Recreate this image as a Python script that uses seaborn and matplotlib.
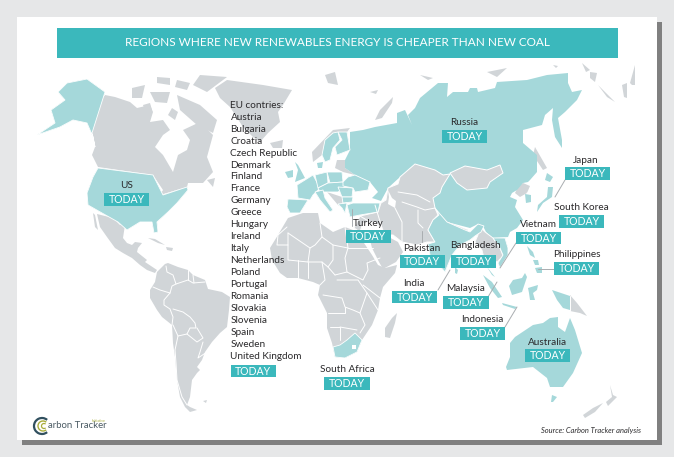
import matplotlib
matplotlib.use("Agg")
import matplotlib.pyplot as plt
from matplotlib.patches import Rectangle, Arc
import seaborn as sns
import pandas as pd

TEAL_LAND = "#a5d8da"
GRAY_LAND = "#d1d5d8"
TEAL_BOX = "#3bb8bc"
INK = "#2b2a2c"

title = "REGIONS WHERE NEW RENEWABLES ENERGY IS CHEAPER THAN NEW COAL"
source = "Source: Carbon Tracker analysis"
eu_header = "EU contries:"
eu_countries = ["Austria", "Bulgaria", "Croatia", "Czech Republic", "Denmark", "Finland", "France",
                "Germany", "Greece", "Hungary", "Ireland", "Italy", "Netherlands", "Poland", "Portugal",
                "Romania", "Slovakia", "Slovenia", "Spain", "Sweden", "United Kingdom"]

# regions and where their labels sit, in picture pixels
regions = ["US", "Russia", "Japan", "South Korea", "Vietnam", "Turkey", "Pakistan", "India",
           "South Africa", "Bangladesh", "Philippines", "Malaysia", "Indonesia", "Australia"]
label_x = [126.5, 464, 585.7, 581.7, 538.3, 368.3, 422, 414.3, 347.3, 475, 576.7, 465.7, 482.3, 547.3]
label_y = [185, 122.5, 160.7, 208, 224.3, 223.3, 248.3, 283.3, 370, 246, 254.3, 288.3, 319.3, 342.3]
box_x = [104, 442, 565, 559, 516, 345.7, 399.7, 392, 324.3, 451, 554, 443.3, 460, 525]
box_y = [193.3, 130, 167.3, 215, 231.7, 230, 255.3, 290.7, 377.3, 255, 262, 296, 327.3, 349]

# outlines
alaska = [(105,92),(87,79),(67,83),(58,92),(65,100),(51,110),(55,123),(37,135),(60,127),(73,120),(87,123),(93,137),(95,147),(92,133)]
usa = [(98,168),(153,175),(163,195),(187,187),(188,190),(177,203),(168,212),(157,222),(158,232),(154,233),(152,222),(140,222),(127,230),(118,222),(102,213),(88,205),(87,193),(93,177)]
canada = [(105,95),(115,97),(130,102),(137,108),(150,105),(153,112),(150,122),(163,120),(170,130),(163,135),(155,147),(163,155),(173,172),(178,155),(187,150),(190,140),(183,130),(200,122),(213,135),(207,157),(213,172),(203,183),(188,183),(187,187),(160,195),(163,190),(153,175),(98,167),(92,155),(95,147),(93,135),(87,123)]
greenland = [(215,88),(227,80),(263,85),(292,90),(283,105),(278,112),(280,122),(268,133),(260,142),(253,137),(243,127),(230,107),(220,98)]
mexico = [(97,214),(113,218),(120,225),(125,225),(123,238),(127,243),(132,245),(135,242),(142,243),(138,248),(137,252),(147,260),(145,262),(157,270),(155,273),(147,270),(140,265),(132,258),(123,253),(115,248),(107,237),(100,227)]
south_america = [(157,272),(165,264),(168,263),(178,267),(188,270),(193,275),(205,280),(208,289),(222,292),(230,297),(229,310),(227,327),(220,333),(212,342),(205,352),(202,360),(197,367),(200,370),(197,373),(192,380),(190,397),(187,405),(190,407),(197,410),(190,412),(185,407),(180,397),(177,380),(175,357),(173,343),(172,325),(162,317),(157,310),(150,298),(150,290),(155,282)]
africa = [(288,218),(303,213),(318,213),(320,223),(333,232),(345,227),(353,230),(362,232),(364,243),(372,255),(378,265),(385,268),(397,265),(395,273),(383,287),(380,298),(378,310),(372,325),(362,340),(357,352),(345,358),(335,357),(332,343),(327,328),(327,313),(318,295),(320,285),(313,282),(298,278),(287,278),(280,273),(272,260),(270,248),(278,235)]
south_africa = [(335,357),(333,347),(340,345),(347,340),(355,333),(362,340),(357,352),(345,358)]
madagascar = [(397,313),(395,323),(390,338),(385,337),(385,328),(392,318)]
russia_china = [(350,132),(363,130),(375,127),(397,123),(397,113),(405,110),(412,125),(408,115),(415,108),(420,98),(438,83),(448,83),(447,97),(453,92),(468,92),(470,88),(477,88),(478,92),(495,88),(497,82),(527,80),(547,75),(568,73),(568,83),(572,92),(582,90),(577,100),(565,112),(558,118),(562,140),(562,148),(555,137),(552,120),(553,108),(545,115),(542,125),(523,130),(523,143),(537,155),(537,172),(530,180),(528,182),(523,183),(517,190),(512,193),(510,197),(517,200),(515,207),(523,220),(517,228),(510,232),(508,237),(493,238),(486,232),(483,226),(478,224),(470,228),(447,222),(440,214),(435,208),(400,177),(388,188),(381,201),(372,198),(378,192),(370,182),(355,175),(345,168),(345,160),(350,150)]
india = [(435,208),(439,215),(433,220),(428,230),(435,242),(428,244),(430,255),(445,272),(452,255),(460,245),(470,240),(475,236),(481,232),(484,226),(478,224),(470,232),(465,230),(447,222),(440,214)]
central_asia = [(400,177),(415,164),(435,170),(443,175),(450,174),(442,187),(440,193),(433,198),(435,208),(438,215),(433,220),(428,230),(435,242),(427,242),(417,245),(402,242),(393,235),(385,235),(382,228),(375,222),(363,223),(360,232),(354,228),(360,216),(378,212),(381,203),(386,200),(388,188),(398,184)]
caspian = [(388,190),(392,198),(396,201),(395,208),(388,204),(389,197)]
arabia = [(368,232),(385,235),(398,242),(403,252),(396,262),(383,269),(379,262),(372,248)]
mongolia = [(450,173),(465,166),(487,170),(500,165),(503,173),(490,182),(487,188),(467,190),(457,183)]
nepal = [(447,222),(468,230),(466,232),(445,225)]
indochina = [(478,225),(485,232),(493,238),(500,248),(503,256),(497,262),(490,258),(490,268),(485,262),(482,250),(475,242),(478,235)]
vietnam = [(493,238),(505,238),(508,248),(508,255),(500,268),(498,263),(503,255),(500,248)]
turkey = [(347,205),(353,203),(380,203),(378,212),(360,215),(350,217)]
finland = [(338,132),(347,132),(350,150),(337,155),(335,147),(342,140)]
sweden = [(333,133),(338,132),(340,140),(333,148),(330,160),(325,162),(322,155),(325,140)]
norway = [(312,152),(333,130),(350,128),(347,132),(333,133),(325,140),(322,155),(313,162)]
france = [(297,185),(313,175),(320,188),(313,195),(310,200),(298,198)]
iberia = [(288,199),(308,200),(300,213),(290,213),(287,207)]
britain = [(295,162),(298,165),(305,178),(295,182),(298,170)]
ireland = [(285,172),(293,170),(293,177),(288,178)]
germany = [(315,175),(327,172),(328,183),(318,188)]
poland = [(327,172),(342,172),(343,182),(330,183)]
central_eu = [(318,188),(328,183),(343,182),(345,187),(338,192),(320,192)]
romania = [(338,187),(353,188),(352,197),(342,197)]
italy = [(315,192),(323,190),(325,198),(333,210),(330,212),(320,200)]
balkans = [(327,192),(342,197),(343,208),(338,205)]
bulgaria = [(342,197),(353,197),(352,202),(343,203)]
greece = [(338,204),(347,203),(345,213),(342,208)]
denmark = [(317,163),(323,162),(322,168),(318,168)]
baltics = [(337,160),(345,160),(345,168),(355,175),(343,172),(335,168)]
ukraine = [(343,182),(348,177),(355,175),(370,182),(368,190),(355,192),(353,188),(343,186)]
australia = [(510,343),(515,337),(533,325),(543,323),(550,318),(558,317),(558,327),(565,332),(570,318),(575,330),(582,353),(573,373),(563,387),(550,387),(547,378),(533,367),(507,370),(506,367),(510,357)]
tasmania = [(552,395),(557,397),(553,402),(551,402)]
sumatra = [(483,275),(492,282),(502,297),(498,298),(490,288)]
java = [(502,303),(517,307),(515,309),(503,305)]
borneo = [(513,280),(522,278),(525,273),(527,277),(522,292),(512,295),(509,286)]
sulawesi = [(528,288),(538,285),(537,290),(533,293),(535,300),(530,300),(529,293)]
papua = [(552,290),(558,292),(570,296),(570,310),(563,308),(557,300)]
malay = [(487,267),(495,277),(492,275)]
luzon = [(527,246),(533,252),(535,258),(530,255)]
visayas = [(533,260),(538,260),(539,265),(535,265)]
mindanao = [(535,268),(542,267),(542,273),(537,273)]
honshu = [(553,187),(552,197),(543,203),(537,212),(538,205),(547,197),(548,187)]
hokkaido = [(547,173),(553,177),(550,182),(545,180)]
south_korea = [(525,194),(531,195),(531,202),(526,203)]
north_korea = [(523,183),(530,186),(527,193),(520,197),(515,193),(518,187)]
sri_lanka = [(455,267),(458,270),(457,274),(455,273)]

teal_land = [alaska, usa, south_africa, russia_china, india, vietnam, turkey, finland, sweden, france, iberia,
             britain, ireland, germany, poland, central_eu, romania, italy, bulgaria, greece, denmark, ukraine,
             australia, tasmania, sumatra, java, borneo, sulawesi, papua, malay, luzon, visayas, mindanao,
             honshu, hokkaido, south_korea, sri_lanka]

gray_land = [canada, greenland, mexico, south_america, africa, madagascar, central_asia, arabia, mongolia, nepal,
             indochina, norway, balkans, baltics, north_korea,
             [(93,213),(95,215),(98,230),(95,227)],  # baja
             [(148,238),(155,239),(165,245),(158,243)],  # cuba
             [(166,247),(173,248),(172,251),(167,250)],  # hispaniola
             [(203,401),(207,400),(206,403)],  # falklands
             [(132,88),(145,85),(142,98),(132,98)], [(150,92),(170,92),(167,103),(155,102)],
             [(177,95),(200,105),(217,120),(213,133),(197,125),(180,110)], [(200,75),(227,77),(207,92),(193,85)],
             [(157,77),(170,78),(170,85),(157,83)], [(177,80),(190,83),(187,90),(175,87)],
             [(143,105),(150,103),(152,110),(145,111)], [(172,108),(178,112),(175,120),(168,115)],
             [(207,180),(215,178),(213,187)],  # newfoundland
             [(270,143),(283,140),(282,148),(273,148)],  # iceland
             [(393,97),(380,110),(375,120),(382,118),(392,103)],  # novaya zemlya
             [(420,75),(433,78),(428,80)], [(487,72),(507,68),(497,77)], [(553,65),(558,66),(556,68)],
             [(370,92),(378,90),(376,94)], [(325,75),(335,72),(338,85),(328,83)],
             [(582,63),(590,70),(586,72)], [(590,72),(597,73),(595,82),(590,78)], [(598,85),(615,102),(607,97)],
             [(622,85),(627,83),(627,98),(624,97)], [(630,83),(635,65),(635,85),(632,85)],
             [(535,147),(547,168),(543,170),(533,155)],  # sakhalin
             [(570,295),(577,303),(587,316),(580,313),(570,311)],  # png
             [(610,385),(613,395),(617,397),(608,406),(606,402),(612,397)],
             [(603,403),(595,412),(585,418),(583,415),(593,408)]]

# white country borders
borders = [
    [(166,266),(167,272),(173,275),(176,284),(172,286),(170,293)], [(153,287),(160,290),(170,293)],
    [(170,293),(164,300),(164,305),(170,309),(173,317),(172,325)], [(173,309),(183,312),(190,317),(195,323),(196,328),(190,328),(187,334),(178,336),(173,325)],
    [(178,336),(175,350),(176,363),(177,380),(182,397),(187,405)], [(187,334),(197,342),(203,338),(197,328)],
    [(203,342),(200,352),(198,358),(207,352)], [(176,284),(182,282),(188,280),(193,283),(205,282)], [(188,270),(188,280)], [(193,275),(194,283)],
    [(287,227),(278,235),(277,245),(288,245),(288,233)], [(288,233),(310,248),(315,245),(322,237),(320,223)],
    [(345,227),(348,248),(333,245),(322,237)], [(348,248),(373,248)], [(333,245),(333,260),(328,267),(335,275)],
    [(348,248),(345,258),(347,272),(335,275)], [(347,272),(363,280),(368,270),(367,263),(380,258)],
    [(310,248),(308,262),(322,262),(328,267)], [(288,245),(288,260),(308,262)], [(322,262),(325,280),(320,285)],
    [(337,280),(358,280),(367,293),(360,313),(353,310),(345,307),(342,298),(323,295)],
    [(328,313),(345,313),(345,307)], [(330,327),(340,327),(340,340)], [(363,285),(380,298)], [(367,293),(378,310)],
    [(360,313),(365,325),(360,333)], [(340,327),(357,330)], [(298,260),(298,278)], [(308,262),(308,278)],
    [(398,192),(417,195),(430,202)], [(402,202),(417,207),(425,210),(435,208)], [(418,210),(418,223),(423,228)],
    [(375,205),(382,228)], [(360,216),(370,222)], [(395,208),(402,222),(402,242)],
    [(527,193),(531,194)], [(570,296),(570,311)],
]

# grey leader lines from the boxes to the regions
leaders = [[(352.3,209),(352.3,226)], [(422,231),(422,242)], [(438,290),(450,270)], [(516,243),(500,268)],
           [(488,297),(497,282)], [(505,327),(517,307)], [(554,269),(538,269)], [(565,180),(555,197)]]


def path_frame(paths):
    rows = [(i, x, y) for i, path in enumerate(paths) for x, y in path]
    return pd.DataFrame(rows, columns=["path", "x", "y"])


sns.set_theme(style="white")
plt.rcParams["font.family"] = ["Lato", "DejaVu Sans"]

fig, ax = plt.subplots(figsize=(6.74, 4.57), dpi=100, facecolor="#e6e7e8")
ax.set_position([0, 0, 1, 1])
ax.set_facecolor("#e6e7e8")

ax.add_patch(Rectangle((22, 21.5), 640, 423.5, fc="#808080", ec="none", zorder=0))
ax.add_patch(Rectangle((17, 16.5), 640, 423.5, fc="white", ec="none", zorder=0.5))
ax.add_patch(Rectangle((56.5, 27.5), 561, 30, fc=TEAL_BOX, ec="none", zorder=1))

for shape in gray_land:
    ax.fill(*zip(*shape), color=GRAY_LAND, lw=0, zorder=2)
for shape in teal_land:
    ax.fill(*zip(*shape), color=TEAL_LAND, lw=0, zorder=2)
ax.fill(*zip(*mongolia), color=GRAY_LAND, ec="white", lw=0.7, zorder=2.2)
ax.fill(*zip(*central_asia), color=GRAY_LAND, ec="white", lw=0.7, zorder=2.1)
ax.fill(*zip(*caspian), color="white", lw=0, zorder=2.3)
ax.fill(*zip(*indochina), color=GRAY_LAND, ec="white", lw=0.6, zorder=2.2)
ax.fill(*zip(*nepal), color=GRAY_LAND, ec="white", lw=0.4, zorder=2.2)
for shape in [turkey, india, vietnam, usa, alaska, finland, sweden, france, iberia, germany, poland, central_eu,
              romania, italy, bulgaria, greece, ukraine, south_africa]:
    ax.fill(*zip(*shape), color=TEAL_LAND, ec="white", lw=0.6, zorder=2.4)
ax.fill(*zip(*[(352,345),(356,345),(356,349),(352,349)]), color="white", lw=0, zorder=2.5)  # lesotho

sns.lineplot(data=path_frame(borders), x="x", y="y", units="path", estimator=None, sort=False,
             color="white", lw=0.7, legend=False, ax=ax, zorder=3)
sns.lineplot(data=path_frame(leaders), x="x", y="y", units="path", estimator=None, sort=False,
             color="#a9adb0", lw=0.7, legend=False, ax=ax, zorder=3)

ax.text(337, 43, title, color="white", fontsize=8.5, ha="center", va="center", zorder=5)

for name, lx, ly, bx, by in zip(regions, label_x, label_y, box_x, box_y):
    ax.text(lx, ly, name, color=INK, fontsize=7.2, ha="center", va="center", zorder=5)
    ax.add_patch(Rectangle((bx, by), 45.3, 12.5, fc=TEAL_BOX, ec="none", zorder=4))
    ax.text(bx + 22.6, by + 6.4, "TODAY", color="white", fontsize=7.6, ha="center", va="center", zorder=5)

ax.text(230.5, 105.3, eu_header, color=INK, fontsize=7.2, va="center", zorder=5)
for i, country in enumerate(eu_countries):
    ax.text(230.5, 105.3 + 11.94 * (i + 1), country, color=INK, fontsize=7.2, va="center", zorder=5)
ax.add_patch(Rectangle((230.7, 365), 45, 12.4, fc=TEAL_BOX, ec="none", zorder=4))
ax.text(253.2, 371.4, "TODAY", color="white", fontsize=7.6, ha="center", va="center", zorder=5)

ax.text(641, 430, source, color=INK, fontsize=5.4, style="italic", ha="right", va="center", zorder=5)

# logo
ax.add_patch(Arc((42, 426), 16, 16, theta1=50, theta2=310, color="#31505f", lw=1.6, zorder=5))
ax.add_patch(Arc((43, 426), 10, 10, theta1=50, theta2=310, color="#a9ad3c", lw=1, zorder=5))
ax.add_patch(Arc((44, 426), 5, 5, theta1=50, theta2=310, color="#a9ad3c", lw=0.9, zorder=5))
ax.text(47.5, 425.5, "arbon Tracker", color="#4a5a63", fontsize=6.9, va="center", zorder=5)
ax.text(106, 420.5, "Initiative", color="#a9ad3c", fontsize=2.6, ha="right", va="center", zorder=5)

ax.set_xlim(0, 674)
ax.set_ylim(457, 0)
ax.set_xlabel("")
ax.set_ylabel("")
ax.set_xticks([])
ax.set_yticks([])
sns.despine(ax=ax, left=True, bottom=True)

fig.savefig("out.png", dpi=100, facecolor=fig.get_facecolor())
